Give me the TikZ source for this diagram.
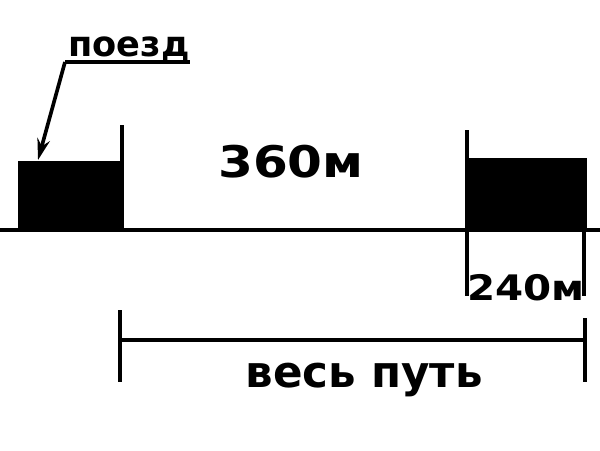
\documentclass[tikz,border=0pt]{standalone}
\usepackage{fontspec}
\setmainfont{DejaVu Sans}
\newfontfamily\handfont{DejaVu Sans Bold}
\newfontfamily\handwide[FakeStretch=1.15]{DejaVu Sans Bold}
\usetikzlibrary{positioning,arrows,arrows.meta}

\begin{document}
\begin{tikzpicture}
        [x=0.025cm, y=-0.025cm,
        line width=2.8pt,
        trainbox/.style={fill=black, draw=black, inner sep=0pt},
        tick/.style={line width=3pt},
        hand/.style={inner sep=0pt, anchor=base, font=\handfont\fontsize{#1}{#1}\selectfont},
        num/.style={inner sep=0pt, anchor=base, font=\handwide\fontsize{#1}{#1}\selectfont},
        pointer/.style={-{Stealth[length=15pt, width=9pt]}, line width=2.6pt}]
        \useasboundingbox (0,0) rectangle (600,450);
        % rails and the two positions of the train
        \draw (0,230) coordinate (railL) -- (600,230) coordinate (railR);
        \node[trainbox, minimum width=2.55cm, minimum height=1.65cm] (trainA) at (71,196) {};
        \node[trainbox, minimum width=2.95cm, minimum height=1.75cm] (trainB) at (526,195) {};
        \draw[tick] (122,125) coordinate (startT) -- (122,230);
        \draw[tick] (467,130) coordinate (bridgeT) -- (467,296);
        \draw[tick] (584,230) -- (584,296) coordinate (endT);
        \node[num=31pt] (len360) at (291,177) {360м};
        \node[num=25pt] (len240) at (526,300) {240м};
        % label of the train
        \node[hand=25pt] (train) at (129,56) {поезд};
        \coordinate (ulL) at (65,62);
        \coordinate (ulR) at (190,62);
        \coordinate (tip) at (38,160);
        \draw (ulL) -- (ulR);
        \draw[pointer] (ulL) -- (tip);
        % whole distance
        \coordinate (wayL) at (120,340);
        \coordinate (wayR) at (585,340);
        \draw[tick] (120,310) -- (120,382);
        \draw[tick] (585,318) -- (585,382);
        \draw (wayL) -- (wayR);
        \node[hand=31pt] (way) at (364,387) {весь путь};
\end{tikzpicture}
\end{document}
